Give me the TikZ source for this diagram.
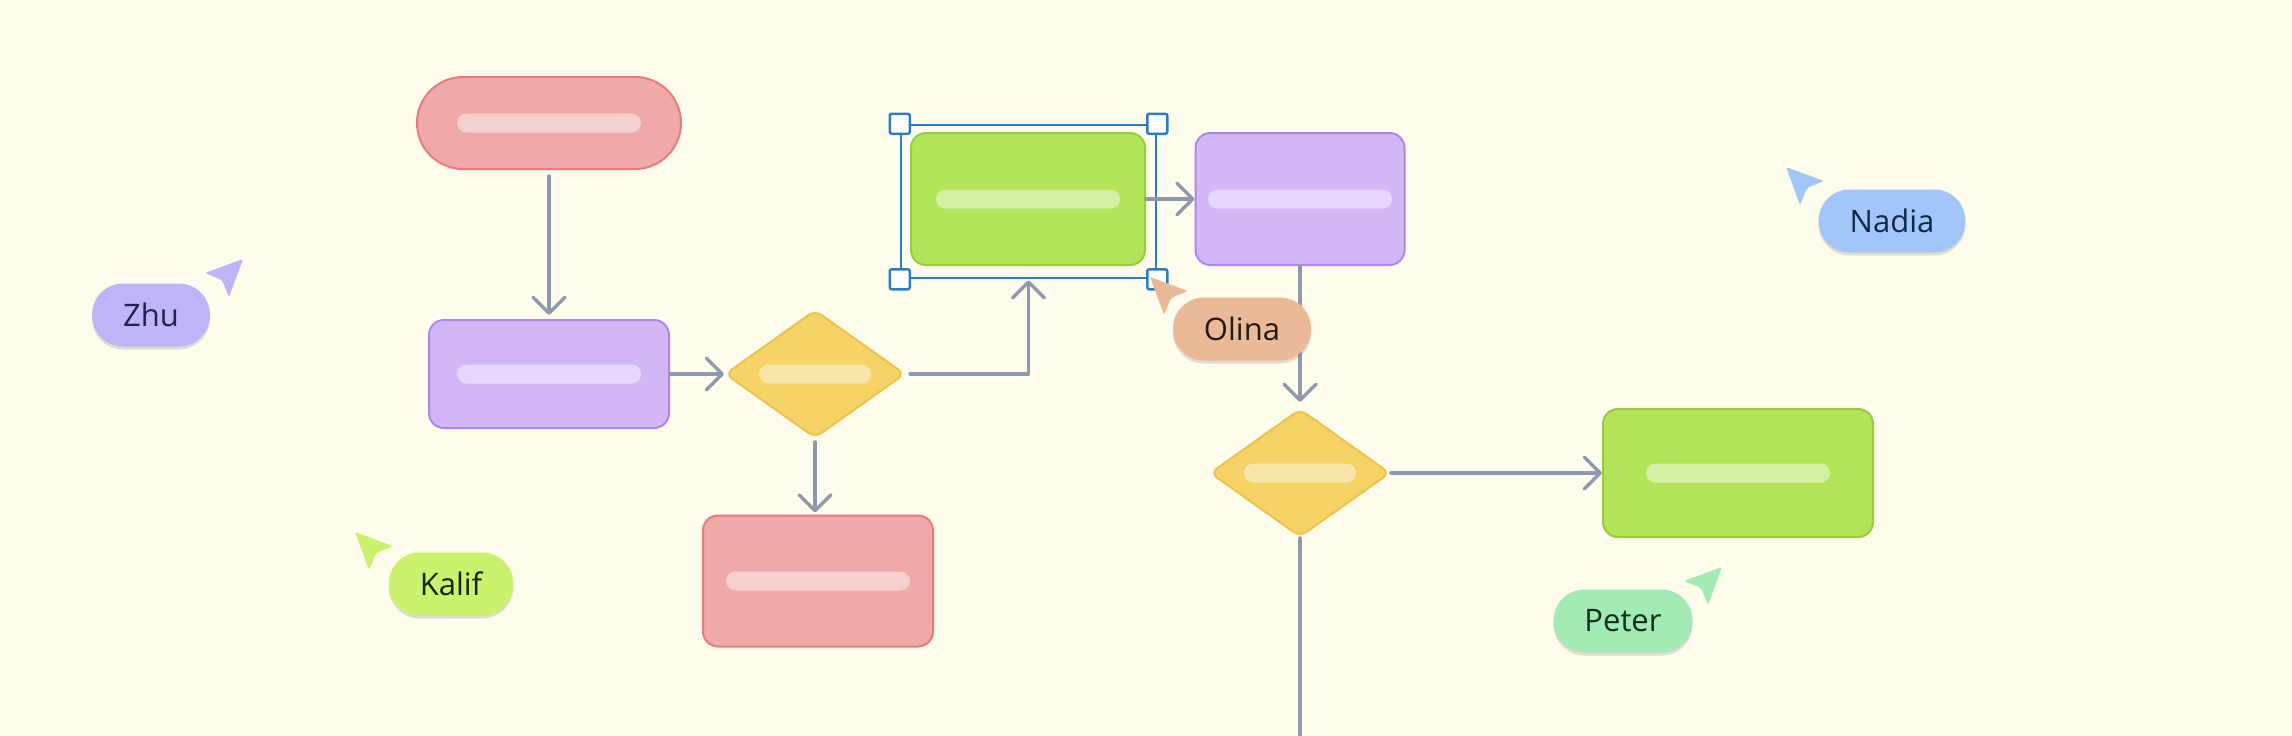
\documentclass[tikz,border=0pt]{standalone}
\usepackage{fontspec}
\setmainfont{Open Sans}
\usepackage{xcolor}
\usepackage{tikz}
\usetikzlibrary{positioning,arrows.meta,shapes.geometric,shadows,calc}
\definecolor{Paper}{HTML}{FEFCEC}
\definecolor{FlowRed}{HTML}{F0A9A9}
\definecolor{FlowRedLine}{HTML}{E87A7C}
\definecolor{FlowViolet}{HTML}{D4B7F8}
\definecolor{FlowVioletLine}{HTML}{AD86EC}
\definecolor{FlowGold}{HTML}{F5D366}
\definecolor{FlowGoldLine}{HTML}{EEC34C}
\definecolor{FlowGreen}{HTML}{B3E45A}
\definecolor{FlowGreenLine}{HTML}{96CC40}
\definecolor{LinkGray}{HTML}{8F99AD}
\definecolor{SelectBlue}{HTML}{2F7DC1}
\definecolor{Zhu}{HTML}{BEB4F8}
\definecolor{ZhuInk}{HTML}{1E2352}
\definecolor{Kalif}{HTML}{CBF26C}
\definecolor{KalifInk}{HTML}{14240A}
\definecolor{Olina}{HTML}{EBB997}
\definecolor{OlinaInk}{HTML}{221A14}
\definecolor{Nadia}{HTML}{A2C6F7}
\definecolor{NadiaInk}{HTML}{10284A}
\definecolor{Peter}{HTML}{A2EBB5}
\definecolor{PeterInk}{HTML}{0E3020}

\begin{document}
\begin{tikzpicture}[x=1pt,y=-1pt,
      every node/.style={font=\fontsize{31}{36}\selectfont},
      bar/.style={path picture={\fill[white,opacity=.45,rounded corners=9.5pt]
          ([xshift=-#1/2,yshift=-9.5pt]path picture bounding box.center) rectangle ++(#1,19pt);}},
      box/.style={draw=#1Line, fill=#1, line width=2pt, rounded corners=15pt,
          inner sep=0pt, bar=184pt},
      dec/.style={diamond, draw=FlowGoldLine, fill=FlowGold, line width=2pt,
          rounded corners=8pt, inner sep=0pt, minimum width=180pt, minimum height=128pt,
          bar=112pt},
      sel/.style={draw=SelectBlue, line width=2.5pt, inner sep=0pt,
          minimum width=255pt, minimum height=153pt},
      handle/.style={draw=SelectBlue, fill=white, line width=2.5pt, rounded corners=2pt,
          inner sep=0pt, minimum size=20pt},
      who/.style={fill=#1, text=#1Ink, rounded corners=31pt, minimum height=63pt,
          inner xsep=31pt, inner ysep=0pt,
          drop shadow={shadow xshift=0pt, shadow yshift=-3pt, opacity=.12, fill=black}},
      link/.style={draw=LinkGray, line width=3.5pt, line cap=round, line join=round},
      ar/.style={link, -{Straight Barb[length=16pt,width=32pt,round]}},
      cursor/.pic={\path[pic actions, rounded corners=2pt]
          (0,0) -- (38,14) -- (21,21) -- (14,38) -- cycle;},
    ]
    \fill[Paper] (0,0) rectangle (2292,736);
    \useasboundingbox (0,0) rectangle (2292,736);

    % FLOW
    \node[box=FlowRed, rounded corners=46pt, minimum width=264pt, minimum height=92pt]
      (start) at (549,123) {};
    \node[box=FlowViolet, minimum width=240pt, minimum height=108pt] (p1) at (549,374) {};
    \node[dec] (d1) at (815,374) {};
    \node[box=FlowRed, minimum width=230pt, minimum height=131pt] (r2) at (818,581) {};
    \node[sel] (select) at (1028.5,201.5) {};
    \node[box=FlowGreen, minimum width=234pt, minimum height=132pt] (g1) at (1028,199) {};
    \node[box=FlowViolet, minimum width=209pt, minimum height=132pt] (p2) at (1300,199) {};
    \node[dec] (d2) at (1300,473) {};
    \node[box=FlowGreen, minimum width=270pt, minimum height=128pt] (g2) at (1738,473) {};
    \coordinate (exit) at (1300,736);

    % Selection handles
    \foreach \c/\n in {north west/hnw, north east/hne, south west/hsw, south east/hse}
    \node[handle] (\n) at (select.\c) {};

    % Links
    \draw[ar, shorten <=6pt, shorten >=4pt] (start.south) -- (p1.north);
    \draw[ar] (p1.east) -- (p1.east -| d1.west);
    \draw[ar, shorten <=4pt, shorten >=1pt] (d1.east) -| (select.south);
    \draw[ar, shorten <=3pt, shorten >=2pt] (d1.south) -- (d1.south |- r2.north);
    \draw[ar] (g1.east) -- (g1.east -| p2.west);
    \draw[ar, shorten >=6pt] (p2.south) -- (d2.north);
    \draw[ar] (d2.east) -- (d2.east -| g2.west);
    \draw[link] (d2.south) -- (exit);

    % People
    \node[who=Zhu] (zhu) at (151,315) {Zhu};
    \node[who=Kalif] (kalif) at (451,584) {Kalif};
    \node[who=Olina] (olina) at (1242,329) {Olina};
    \node[who=Nadia] (nadia) at (1892,221) {Nadia};
    \node[who=Peter] (peter) at (1623,621) {Peter};
    \foreach \c/\p/\f in {Zhu/{243,259}/-1, Kalif/{355,532}/1, Olina/{1150,277}/1,
        Nadia/{1786,167}/1, Peter/{1722,567}/-1}
    \pic[fill=\c, xscale=\f] at (\p) {cursor};
  \end{tikzpicture}
\end{document}
